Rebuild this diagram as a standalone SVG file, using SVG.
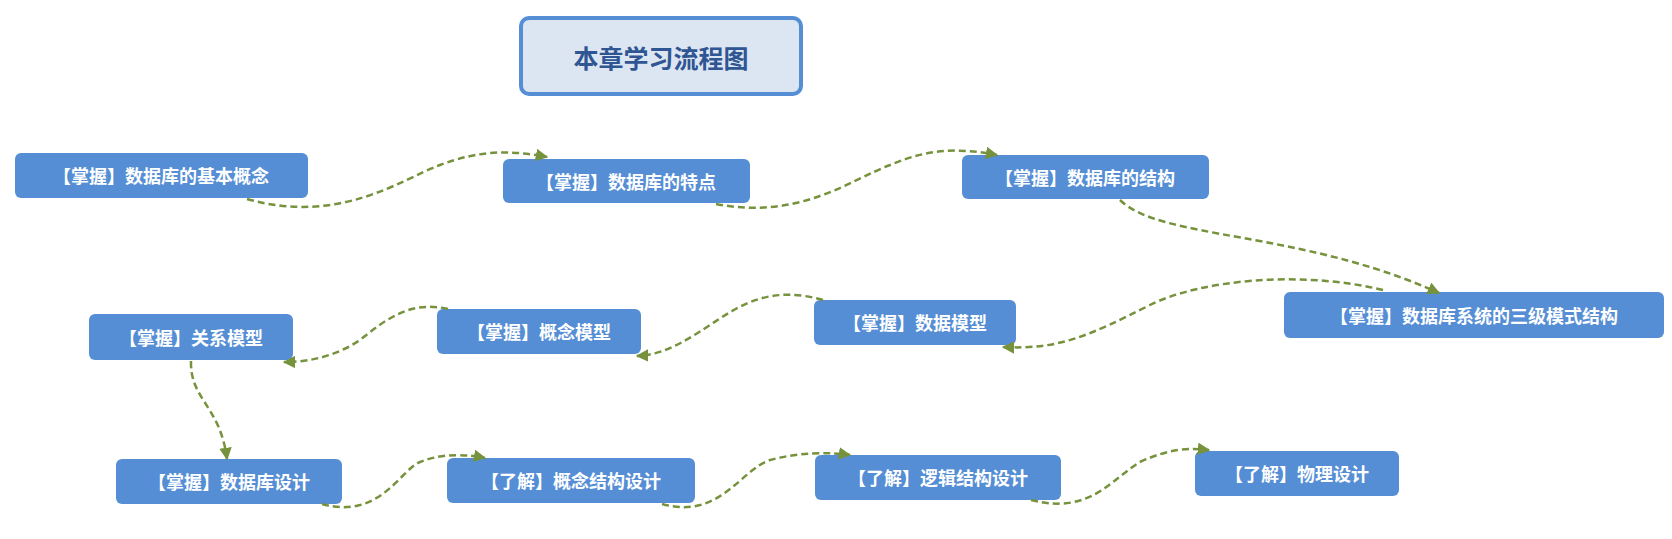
<svg xmlns="http://www.w3.org/2000/svg" width="1672" height="539" viewBox="0 0 1672 539">
<style>
.n rect{fill:#558ed5;}
.n text{fill:#fff;font:bold 18px "Noto Sans CJK SC","Noto Sans",sans-serif;text-anchor:middle;dominant-baseline:central;}
.c path{fill:none;stroke:#76923c;stroke-width:2.5;stroke-dasharray:7 4;marker-end:url(#a);}
</style>
<defs><marker id="a" viewBox="0 0 10 10" refX="9" refY="5" markerWidth="5" markerHeight="5" orient="auto" markerUnits="strokeWidth"><path d="M0,0L10,5L0,10z" fill="#76923c"/></marker></defs>
<rect width="1672" height="539" fill="#fff"/>
<g id="title"><rect x="521" y="18" width="280" height="76" rx="8" fill="#dce6f2" stroke="#558ed5" stroke-width="4"/><text x="661" y="57" font-family="Noto Sans CJK SC,sans-serif" font-weight="bold" font-size="25" fill="#2f5593" text-anchor="middle" dominant-baseline="central">本章学习流程图</text></g>
<g id="n1" class="n"><rect x="15" y="153" width="293" height="45" rx="6"/><text x="161" y="175">【掌握】数据库的基本概念</text></g>
<g id="n2" class="n"><rect x="503" y="159" width="247" height="44" rx="6"/><text x="626" y="181">【掌握】数据库的特点</text></g>
<g id="n3" class="n"><rect x="962" y="155" width="247" height="44" rx="6"/><text x="1085" y="177">【掌握】数据库的结构</text></g>
<g id="n4" class="n"><rect x="1284" y="292" width="380" height="46" rx="6"/><text x="1474" y="315">【掌握】数据库系统的三级模式结构</text></g>
<g id="n5" class="n"><rect x="814" y="300" width="202" height="45" rx="6"/><text x="915" y="322">【掌握】数据模型</text></g>
<g id="n6" class="n"><rect x="437" y="309" width="204" height="45" rx="6"/><text x="539" y="331">【掌握】概念模型</text></g>
<g id="n7" class="n"><rect x="89" y="314" width="204" height="46" rx="6"/><text x="191" y="337">【掌握】关系模型</text></g>
<g id="n8" class="n"><rect x="116" y="459" width="226" height="45" rx="6"/><text x="229" y="481">【掌握】数据库设计</text></g>
<g id="n9" class="n"><rect x="447" y="458" width="248" height="45" rx="6"/><text x="571" y="480">【了解】概念结构设计</text></g>
<g id="n10" class="n"><rect x="815" y="455" width="246" height="45" rx="6"/><text x="938" y="477">【了解】逻辑结构设计</text></g>
<g id="n11" class="n"><rect x="1195" y="451" width="204" height="45" rx="6"/><text x="1297" y="473">【了解】物理设计</text></g>
<g id="connectors" class="c">
<path d="M247,199 C340,225 400,180 440,165 C480,150 510,150 547,157"/>
<path d="M716,204 C800,220 850,180 890,165 C930,148 960,148 997,155"/>
<path d="M1120,200 C1160,240 1300,230 1439,293"/>
<path d="M1383,290 C1300,270 1200,280 1150,305 C1090,335 1060,350 1003,347"/>
<path d="M823,300 C770,285 740,305 710,325 C680,345 660,355 637,356"/>
<path d="M448,309 C410,300 385,320 360,340 C330,360 300,362 284,362"/>
<path d="M191,361 C190,400 220,405 227,459"/>
<path d="M322,504 C380,520 400,470 420,462 C445,452 470,455 485,458"/>
<path d="M662,504 C720,520 740,470 770,460 C800,452 830,452 850,455"/>
<path d="M1031,500 C1090,515 1110,480 1140,462 C1170,448 1190,448 1209,450"/>
</g>
</svg>
